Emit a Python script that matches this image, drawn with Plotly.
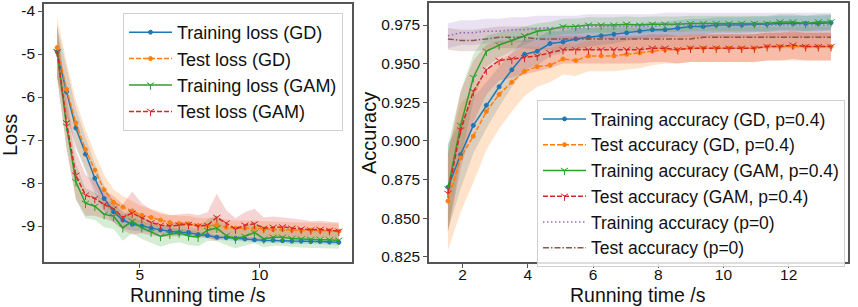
import plotly.graph_objects as go

# ---------------- data ----------------
time_s = [1.55, 1.94, 2.33, 2.73, 3.12, 3.51, 3.90, 4.29, 4.68, 5.08, 5.47, 5.86, 6.25, 6.64,
          7.03, 7.43, 7.82, 8.21, 8.60, 8.99, 9.38, 9.78, 10.17, 10.56, 10.95, 11.34, 11.73,
          12.13, 12.52, 12.91, 13.30]

# Loss (left panel)
train_loss_gd = [-4.95, -5.88, -6.72, -7.33, -7.89, -8.36, -8.67, -8.86, -8.96, -9.00, -9.05,
                 -9.09, -9.12, -9.15, -9.15, -9.20, -9.22, -9.26, -9.27, -9.29, -9.30, -9.32,
                 -9.33, -9.33, -9.34, -9.35, -9.35, -9.36, -9.36, -9.37, -9.38]
train_loss_gd_std = [0.60, 0.55, 0.45, 0.40, 0.35, 0.30, 0.25, 0.20, 0.15, 0.12, 0.10, 0.09,
                     0.08, 0.08, 0.07, 0.07, 0.06, 0.06, 0.06, 0.06, 0.06, 0.06, 0.06, 0.06,
                     0.06, 0.06, 0.06, 0.06, 0.06, 0.06, 0.06]
test_loss_gd = [-4.85, -5.82, -6.60, -7.22, -7.70, -8.16, -8.45, -8.56, -8.65, -8.75, -8.80,
                -8.86, -8.92, -8.94, -8.95, -8.99, -9.00, -8.97, -9.03, -9.05, -9.05, -9.05,
                -9.07, -9.08, -9.08, -9.09, -9.10, -9.10, -9.11, -9.11, -9.12]
test_loss_gd_std = [0.70, 0.62, 0.52, 0.45, 0.40, 0.35, 0.30, 0.26, 0.23, 0.21, 0.20, 0.19,
                    0.18, 0.18, 0.18, 0.18, 0.18, 0.18, 0.18, 0.18, 0.18, 0.18, 0.18, 0.18,
                    0.18, 0.18, 0.18, 0.18, 0.18, 0.18, 0.18]
train_loss_gam = [-4.95, -6.68, -7.97, -8.47, -8.54, -8.73, -8.77, -9.04, -8.89, -9.04, -9.14,
                  -9.24, -9.19, -9.16, -9.23, -9.26, -9.10, -9.05, -9.22, -9.30, -9.24, -9.15,
                  -9.30, -9.26, -9.26, -9.29, -9.30, -9.31, -9.31, -9.32, -9.33]
train_loss_gam_std = [0.60, 0.50, 0.42, 0.35, 0.32, 0.30, 0.30, 0.30, 0.28, 0.26, 0.25, 0.24,
                      0.22, 0.22, 0.21, 0.21, 0.25, 0.30, 0.22, 0.22, 0.22, 0.25, 0.20, 0.20,
                      0.20, 0.20, 0.20, 0.20, 0.20, 0.20, 0.20]
test_loss_gam = [-4.95, -6.60, -7.82, -8.28, -8.36, -8.50, -8.60, -8.80, -8.70, -8.82, -8.92,
                 -8.98, -9.00, -8.98, -8.96, -9.00, -8.98, -8.80, -8.93, -9.07, -8.98, -8.95,
                 -9.05, -9.03, -9.02, -9.05, -9.07, -9.09, -9.08, -9.10, -9.12]
test_loss_gam_std = [0.60, 0.60, 0.55, 0.48, 0.40, 0.33, 0.30, 0.30, 0.50, 0.35, 0.30, 0.27,
                     0.25, 0.25, 0.25, 0.25, 0.30, 0.55, 0.30, 0.25, 0.30, 0.35, 0.25, 0.25,
                     0.22, 0.22, 0.22, 0.20, 0.20, 0.20, 0.20]

# Accuracy (right panel)
train_acc_gd = [0.870, 0.891, 0.910, 0.923, 0.935, 0.946, 0.956, 0.958, 0.963, 0.964, 0.966,
                0.967, 0.968, 0.969, 0.970, 0.971, 0.972, 0.972, 0.973, 0.974, 0.974, 0.975,
                0.975, 0.975, 0.9755, 0.9755, 0.976, 0.976, 0.976, 0.976, 0.9765]
train_acc_gd_std = [0.028, 0.022, 0.018, 0.015, 0.013, 0.011, 0.010, 0.009, 0.008, 0.007,
                    0.007, 0.006, 0.006, 0.006, 0.005, 0.005, 0.005, 0.005, 0.005, 0.005,
                    0.005, 0.005, 0.005, 0.005, 0.005, 0.005, 0.005, 0.005, 0.005, 0.005, 0.005]
test_acc_gd = [0.861, 0.889, 0.903, 0.919, 0.930, 0.938, 0.945, 0.948, 0.949, 0.953, 0.952,
               0.955, 0.955, 0.955, 0.956, 0.957, 0.958, 0.959, 0.959, 0.960, 0.960, 0.960,
               0.960, 0.960, 0.960, 0.961, 0.961, 0.961, 0.961, 0.961, 0.961]
test_acc_gd_std = [0.032, 0.035, 0.030, 0.025, 0.022, 0.019, 0.016, 0.013, 0.011, 0.010,
                   0.010, 0.010, 0.010, 0.010, 0.010, 0.010, 0.009, 0.009, 0.009, 0.009,
                   0.009, 0.009, 0.009, 0.009, 0.009, 0.009, 0.009, 0.009, 0.009, 0.009, 0.009]
train_acc_gam = [0.869, 0.910, 0.941, 0.958, 0.962, 0.965, 0.968, 0.971, 0.972, 0.974, 0.974,
                 0.975, 0.975, 0.975, 0.9755, 0.975, 0.9755, 0.9755, 0.9755, 0.976, 0.976,
                 0.976, 0.976, 0.976, 0.976, 0.976, 0.977, 0.977, 0.976, 0.977, 0.977]
train_acc_gam_std = [0.028, 0.022, 0.015, 0.010, 0.008, 0.007, 0.006, 0.005, 0.005, 0.005,
                     0.005, 0.005, 0.005, 0.005, 0.005, 0.005, 0.005, 0.005, 0.005, 0.005,
                     0.005, 0.005, 0.005, 0.005, 0.005, 0.005, 0.005, 0.005, 0.005, 0.005, 0.005]
test_acc_gam = [0.866, 0.907, 0.932, 0.946, 0.952, 0.953, 0.954, 0.955, 0.957, 0.959, 0.959,
                0.959, 0.959, 0.959, 0.959, 0.959, 0.960, 0.960, 0.959, 0.960, 0.960, 0.960,
                0.960, 0.960, 0.960, 0.961, 0.961, 0.962, 0.961, 0.961, 0.961]
test_acc_gam_std = [0.025, 0.025, 0.020, 0.016, 0.013, 0.012, 0.011, 0.010, 0.010, 0.009,
                    0.009, 0.009, 0.009, 0.009, 0.009, 0.009, 0.009, 0.009, 0.009, 0.009,
                    0.009, 0.009, 0.009, 0.009, 0.009, 0.009, 0.009, 0.009, 0.009, 0.009, 0.009]
train_acc_p0 = [0.968, 0.970, 0.970, 0.971, 0.971, 0.972, 0.972, 0.973, 0.973, 0.973, 0.973,
                0.974, 0.974, 0.974, 0.974, 0.974, 0.974, 0.975, 0.975, 0.975, 0.975, 0.975,
                0.975, 0.975, 0.975, 0.975, 0.975, 0.975, 0.975, 0.975, 0.975]
train_acc_p0_std = [0.008] * 31
test_acc_p0 = [0.966, 0.965, 0.965, 0.966, 0.967, 0.967, 0.967, 0.966, 0.966, 0.966, 0.966,
               0.966, 0.966, 0.966, 0.966, 0.966, 0.966, 0.966, 0.966, 0.966, 0.967, 0.967,
               0.967, 0.967, 0.967, 0.967, 0.967, 0.967, 0.967, 0.967, 0.967]
test_acc_p0_std = [0.007] * 31

loss_ticks = [-4, -5, -6, -7, -8, -9]
loss_tick_text = ["-4", "-5", "-6", "-7", "-8", "-9"]
acc_ticks = [0.825, 0.850, 0.875, 0.900, 0.925, 0.950, 0.975]
acc_tick_text = ["0.825", "0.850", "0.875", "0.900", "0.925", "0.950", "0.975"]

# ---------------- styles ----------------
FONT = "Liberation Sans, Arial, sans-serif"
C = {"blue": "#1f77b4", "orange": "#ff7f0e", "green": "#2ca02c", "red": "#d62728",
     "purple": "#9467bd", "brown": "#8c564b"}
RGBA = {"blue": "rgba(31,119,180,0.2)", "orange": "rgba(255,127,14,0.22)",
        "green": "rgba(44,160,44,0.2)", "red": "rgba(214,39,40,0.2)",
        "purple": "rgba(148,103,189,0.2)", "brown": "rgba(140,86,75,0.2)"}
DASH = {"solid": "solid", "dash": "5px,2px", "dot": "1.5px,2.5px", "dashdot": "6px,2px,1.5px,2px"}

fig = go.Figure()


def band(mean, std, col, xa, ya):
    up = [m + s for m, s in zip(mean, std)]
    lo = [m - s for m, s in zip(mean, std)]
    fig.add_trace(go.Scatter(x=time_s, y=up, mode="lines", line=dict(width=0),
                             showlegend=False, hoverinfo="skip", xaxis=xa, yaxis=ya))
    fig.add_trace(go.Scatter(x=time_s, y=lo, mode="lines", line=dict(width=0),
                             fill="tonexty", fillcolor=RGBA[col], showlegend=False,
                             hoverinfo="skip", xaxis=xa, yaxis=ya))


def line(mean, col, name, dash, symbol, msize, xa, ya, legend, mode="lines+markers"):
    fig.add_trace(go.Scatter(
        x=time_s, y=mean, mode=mode, name=name,
        line=dict(color=C[col], width=1.5, dash=DASH[dash]),
        marker=dict(symbol=symbol, size=msize, color=C[col],
                    line=dict(color=C[col], width=1)),
        xaxis=xa, yaxis=ya, legend=legend))


# left panel
band(train_loss_gd, train_loss_gd_std, "blue", "x", "y")
band(test_loss_gd, test_loss_gd_std, "orange", "x", "y")
band(train_loss_gam, train_loss_gam_std, "green", "x", "y")
band(test_loss_gam, test_loss_gam_std, "red", "x", "y")
line(train_loss_gd, "blue", "Training loss (GD)", "solid", "circle", 4, "x", "y", "legend")
line(test_loss_gd, "orange", "Test loss (GD)", "dash", "circle", 4, "x", "y", "legend")
line(train_loss_gam, "green", "Training loss (GAM)", "solid", "y-down-open", 6, "x", "y", "legend")
line(test_loss_gam, "red", "Test loss (GAM)", "dash", "y-down-open", 6, "x", "y", "legend")

# right panel
band(train_acc_p0, train_acc_p0_std, "purple", "x2", "y2")
band(test_acc_p0, test_acc_p0_std, "brown", "x2", "y2")
band(train_acc_gd, train_acc_gd_std, "blue", "x2", "y2")
band(test_acc_gd, test_acc_gd_std, "orange", "x2", "y2")
band(train_acc_gam, train_acc_gam_std, "green", "x2", "y2")
band(test_acc_gam, test_acc_gam_std, "red", "x2", "y2")
line(train_acc_gd, "blue", "Training accuracy (GD, p=0.4)", "solid", "circle", 4, "x2", "y2", "legend2")
line(test_acc_gd, "orange", "Test accuracy (GD, p=0.4)", "dash", "circle", 4, "x2", "y2", "legend2")
line(train_acc_gam, "green", "Training accuracy (GAM, p=0.4)", "solid", "y-down-open", 6, "x2", "y2", "legend2")
line(test_acc_gam, "red", "Test accuracy (GAM, p=0.4)", "dash", "y-down-open", 6, "x2", "y2", "legend2")
line(train_acc_p0, "purple", "Training accuracy (p=0)", "dot", "circle", 1, "x2", "y2", "legend2", mode="lines")
line(test_acc_p0, "brown", "Test accuracy (p=0)", "dashdot", "circle", 1, "x2", "y2", "legend2", mode="lines")

axis_common = dict(showline=True, mirror=True, linecolor="#555555", linewidth=1.5,
                   ticks="outside", ticklen=4, tickwidth=1.2, tickcolor="#555555",
                   showgrid=False, zeroline=False, automargin=False,
                   tickfont=dict(family=FONT, size=15.5, color="#111"))
xaxis_extra = dict(ticklabelstandoff=-6)

fig.update_layout(
    width=858, height=307, margin=dict(l=0, r=0, t=0, b=0, autoexpand=False),
    paper_bgcolor="white", plot_bgcolor="white",
    font=dict(family=FONT, color="#111"),
    xaxis=dict(domain=[44 / 858, 352 / 858], range=[1.0, 13.85],
               tickvals=[5, 10], anchor="y", **axis_common, **xaxis_extra),
    yaxis=dict(domain=[1 - 262 / 307, 1 - 4 / 307], range=[-9.837, -3.837],
               tickvals=loss_ticks, ticktext=loss_tick_text, anchor="x", **axis_common),
    xaxis2=dict(domain=[429 / 858, 848 / 858], range=[0.97, 13.82],
                tickvals=[2, 4, 6, 8, 10, 12], anchor="y2", **axis_common, **xaxis_extra),
    yaxis2=dict(domain=[1 - 262 / 307, 1 - 3 / 307], range=[0.82157, 0.98924],
                tickvals=acc_ticks, ticktext=acc_tick_text, anchor="x2", **axis_common),
    legend=dict(x=123 / 858, y=1 - 13 / 307, xanchor="left", yanchor="top",
                bgcolor="rgba(255,255,255,0.8)", bordercolor="#d0d0d0", borderwidth=1,
                font=dict(family=FONT, size=18, color="#111"), itemwidth=43,
                tracegroupgap=0, traceorder="normal"),
    legend2=dict(x=537 / 858, y=1 - 100 / 307, xanchor="left", yanchor="top",
                 bgcolor="rgba(255,255,255,0.8)", bordercolor="#d0d0d0", borderwidth=1,
                 font=dict(family=FONT, size=17.5, color="#111"), itemwidth=43,
                 tracegroupgap=0, traceorder="normal"),
    annotations=[
        dict(text="Running time /s", x=198 / 858, y=1 - 295 / 307, xref="paper", yref="paper",
             showarrow=False, font=dict(family=FONT, size=19.5, color="#111"),
             xanchor="center", yanchor="middle"),
        dict(text="Running time /s", x=638 / 858, y=1 - 295 / 307, xref="paper", yref="paper",
             showarrow=False, font=dict(family=FONT, size=19.5, color="#111"),
             xanchor="center", yanchor="middle"),
        dict(text="Loss", x=10 / 858, y=1 - 135 / 307, xref="paper", yref="paper",
             showarrow=False, textangle=-90, font=dict(family=FONT, size=20, color="#111"),
             xanchor="center", yanchor="middle"),
        dict(text="Accuracy", x=369 / 858, y=1 - 133 / 307, xref="paper", yref="paper",
             showarrow=False, textangle=-90, font=dict(family=FONT, size=20, color="#111"),
             xanchor="center", yanchor="middle"),
    ],
)

fig.write_html("out.html", config={"displayModeBar": False},
               post_script="document.body.style.margin='0px';document.body.style.padding='0px';")
